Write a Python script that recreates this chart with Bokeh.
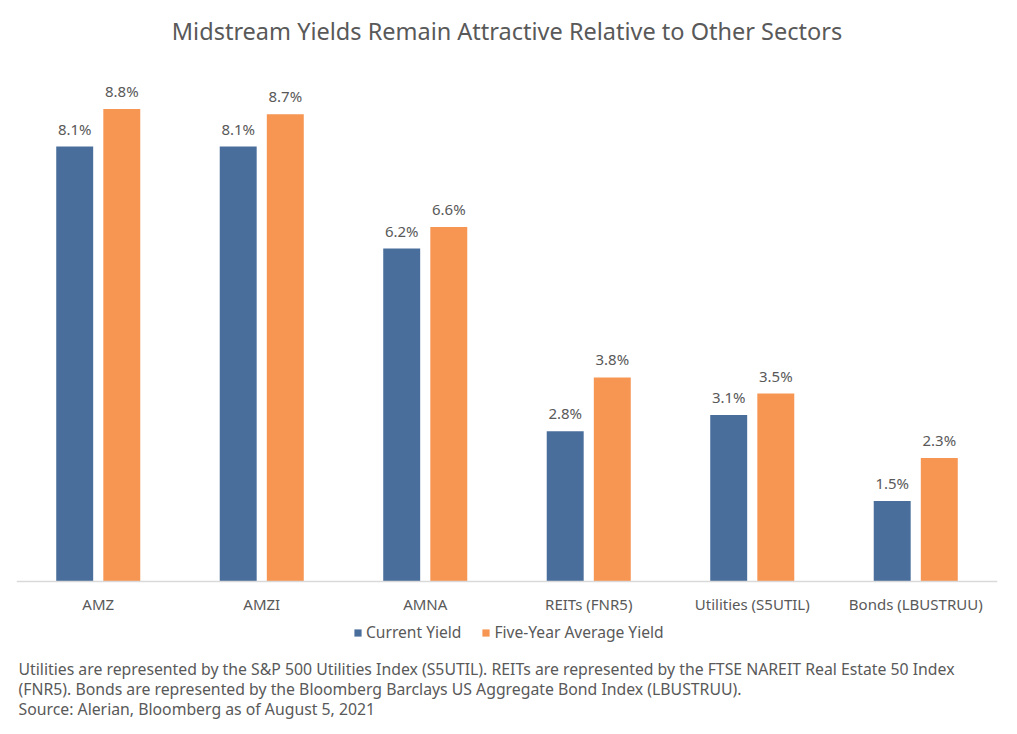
from bokeh.plotting import figure
from bokeh.models import ColumnDataSource, FactorRange, Legend, LegendItem, Title, Label
from bokeh.transform import dodge
from bokeh.core.properties import value
from bokeh.embed import file_html
from bokeh.resources import INLINE

categories = ["AMZ", "AMZI", "AMNA", "REITs (FNR5)", "Utilities (S5UTIL)", "Bonds (LBUSTRUU)"]
current_yield = [8.1, 8.1, 6.2, 2.8, 3.1, 1.5]
five_year_avg = [8.8, 8.7, 6.6, 3.8, 3.5, 2.3]
series_names = ["Current Yield", "Five-Year Average Yield"]
title_text = "Midstream Yields Remain Attractive Relative to Other Sectors"
footnotes = [
    "Utilities are represented by the S&P 500 Utilities Index (S5UTIL). REITs are represented by the FTSE NAREIT Real Estate 50 Index",
    "(FNR5). Bonds are represented by the Bloomberg Barclays US Aggregate Bond Index (LBUSTRUU).",
    "Source: Alerian, Bloomberg as of August 5, 2021",
]

BLUE = "#4a6e9b"
ORANGE = "#f79552"
GREY = "#595959"
FONT = "Noto Sans"

source = ColumnDataSource(dict(
    cat=categories,
    cur=current_yield,
    avg=five_year_avg,
    cur_lbl=[f"{v:.1f}%" for v in current_yield],
    avg_lbl=[f"{v:.1f}%" for v in five_year_avg],
))

# frame: 682 px tall, baseline 145 px above its bottom, 53.7 px per percent
p = figure(
    width=1008, height=726,
    x_range=FactorRange(*categories, range_padding=0),
    y_range=(-2.70, 10),
    output_backend="svg", toolbar_location=None,
    min_border_left=16, min_border_right=11, min_border_top=44, min_border_bottom=0,
)
p.title = Title(text=title_text, align="center", text_font_size="23.5px",
                text_color=GREY, text_font_style="normal", text_font=FONT,
                vertical_align="bottom", standoff=-4)

off = 0.144
w = 0.226
r1 = p.vbar(x=dodge("cat", -off, range=p.x_range), top="cur", width=w, bottom=0,
            source=source, color=BLUE, line_color=None)
r2 = p.vbar(x=dodge("cat", off, range=p.x_range), top="avg", width=w, bottom=0,
            source=source, color=ORANGE, line_color=None)

p.text(x=dodge("cat", -off, range=p.x_range), y="cur", text="cur_lbl", source=source,
       text_align="center", text_baseline="bottom", y_offset=-8,
       text_font=value(FONT), text_font_size="15px", text_color=GREY)
p.text(x=dodge("cat", off, range=p.x_range), y="avg", text="avg_lbl", source=source,
       text_align="center", text_baseline="bottom", y_offset=-8,
       text_font=value(FONT), text_font_size="15px", text_color=GREY)

p.yaxis.visible = False
p.xgrid.visible = False
p.ygrid.visible = False
p.outline_line_color = None
p.xaxis.fixed_location = 0
p.xaxis.axis_line_color = "#d9d9d9"
p.xaxis.axis_line_width = 1.5
p.xaxis.major_tick_line_color = None
p.xaxis.minor_tick_line_color = None
p.xaxis.major_label_text_font = FONT
p.xaxis.major_label_text_font_size = "15px"
p.xaxis.major_label_text_color = GREY
p.xaxis.major_label_standoff = 6

legend = Legend(items=[LegendItem(label=series_names[0], renderers=[r1]),
                       LegendItem(label=series_names[1], renderers=[r2])],
                orientation="horizontal", location=(337, 83),
                label_text_font=FONT, label_text_font_size="15.6px", label_text_color=GREY,
                glyph_width=9, glyph_height=9, spacing=20, padding=0, margin=0,
                label_standoff=4, border_line_color=None, background_fill_alpha=0)
p.add_layout(legend, "center")

foot_y = [-1.62, -2.0, -2.38]
for t, yy in zip(footnotes, foot_y):
    p.add_layout(Label(x=0, y=yy, x_offset=2, text=t,
                       text_font=FONT, text_font_size="15.8px", text_color=GREY,
                       text_baseline="middle"))

open("out.html", "w").write(file_html(p, INLINE))
